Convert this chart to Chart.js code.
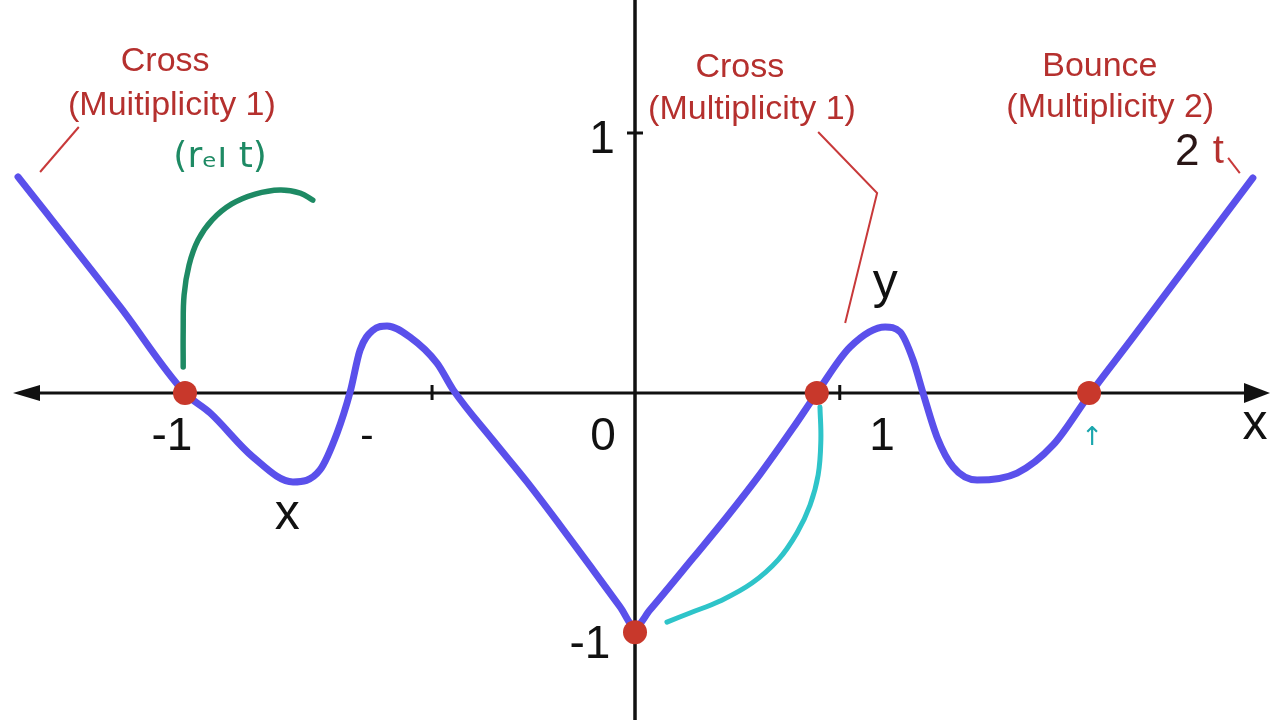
<!DOCTYPE html>
<html>
<head>
<meta charset="utf-8">
<script src="https://cdn.jsdelivr.net/npm/chart.js@4.4.1/dist/chart.umd.min.js"></script>
<style>
  html, body { margin: 0; padding: 0; background: #ffffff; }
  #wrap { width: 1280px; height: 720px; }
</style>
</head>
<body>
<div id="wrap"><canvas id="c" width="1280" height="720"></canvas></div>
<script>
// ---- data (in axis units) ----
const curveX = [-1.371,-1.144,-1.000,-0.944,-0.849,-0.760,-0.700,-0.662,-0.633,-0.611,-0.582,-0.551,-0.500,-0.440,-0.404,-0.316,-0.240,-0.167,-0.093,-0.033,0.000,0.033,0.129,0.204,0.278,0.351,0.404,0.478,0.556,0.589,0.618,0.640,0.671,0.707,0.760,0.849,0.929,1.009,1.107,1.249,1.373];
const curveY = [0.831,0.331,0.000,-0.077,-0.246,-0.342,-0.296,-0.154,0.004,0.165,0.242,0.258,0.215,0.115,0.012,-0.181,-0.342,-0.508,-0.681,-0.823,-0.900,-0.835,-0.635,-0.477,-0.312,-0.135,0.000,0.177,0.254,0.235,0.127,0.000,-0.169,-0.285,-0.335,-0.308,-0.200,-0.008,0.215,0.542,0.827];

const rootX = [-1.0, 0.404, 1.009, 0.0];
const rootY = [0.0, 0.0, 0.0, -0.92];

const greenX = [-1.004,-1.004,-1.002,-0.991,-0.971,-0.940,-0.896,-0.844,-0.789,-0.744,-0.716];
const greenY = [0.100,0.242,0.377,0.492,0.588,0.665,0.727,0.765,0.781,0.769,0.742];

const cyanX = [0.411,0.413,0.407,0.389,0.360,0.318,0.260,0.189,0.122,0.071];
const cyanY = [-0.054,-0.181,-0.315,-0.431,-0.538,-0.642,-0.731,-0.800,-0.846,-0.881];

const leaderLeftX = [-1.236,-1.322];
const leaderLeftY = [1.023,0.850];
const leaderMidX = [0.407,0.538,0.467];
const leaderMidY = [1.004,0.769,0.269];
const leaderRightX = [1.318,1.344];
const leaderRightY = [0.904,0.846];

const xTickValues = [-0.451, 0.455];
const yTickValues = [1.0];

const textItems = [
  {t:"Cross", x:-1.044, y:1.273, kind:"note"},
  {t:"(Muitiplicity 1)", x:-1.029, y:1.104, kind:"note"},
  {t:"(rₑı t)", x:-0.922, y:0.905, kind:"green"},
  {t:"Cross", x:0.233, y:1.250, kind:"note"},
  {t:"(Multiplicity 1)", x:0.260, y:1.088, kind:"note"},
  {t:"Bounce", x:1.033, y:1.254, kind:"note"},
  {t:"(Multiplicity 2)", x:1.056, y:1.096, kind:"note"},
  {t:"2", x:1.227, y:0.923, kind:"dark"},
  {t:"t", x:1.296, y:0.927, kind:"redbig"},
  {t:"y", x:0.556, y:0.420, kind:"var"},
  {t:"x", x:-0.773, y:-0.470, kind:"var"},
  {t:"x", x:1.378, y:-0.125, kind:"var"},
  {t:"-1", x:-1.029, y:-0.169, kind:"num"},
  {t:"0", x:-0.071, y:-0.169, kind:"num"},
  {t:"1", x:0.549, y:-0.169, kind:"num"},
  {t:"-", x:-0.596, y:-0.169, kind:"dash"},
  {t:"1", x:-0.073, y:0.973, kind:"num"},
  {t:"-1", x:-0.100, y:-0.969, kind:"num"},
  {t:"↑", x:1.016, y:-0.175, kind:"cyan"}
];

const zip = (xs, ys) => xs.map((v, i) => ({x: v, y: ys[i]}));

const styles = {
  note:  {font:"34px 'Liberation Sans', Arial, sans-serif", color:"#b5302e"},
  green: {font:"36px 'DejaVu Sans', 'Liberation Sans', sans-serif", color:"#1e8a64"},
  dark:  {font:"44px 'Liberation Sans', Arial, sans-serif", color:"#2a1616"},
  redbig:{font:"40px 'Liberation Sans', Arial, sans-serif", color:"#b5302e"},
  var:   {font:"50px 'Liberation Sans', Arial, sans-serif", color:"#111111"},
  num:   {font:"46px 'Liberation Sans', Arial, sans-serif", color:"#111111"},
  dash:  {font:"40px 'Liberation Sans', Arial, sans-serif", color:"#111111"},
  cyan:  {font:"26px 'DejaVu Sans', sans-serif", color:"#1aa6ad"}
};

const axesPlugin = {
  id: 'axesPlugin',
  beforeDatasetsDraw(chart) {
    const {ctx, scales:{x, y}} = chart;
    const x0 = x.getPixelForValue(0), y0 = y.getPixelForValue(0);
    const left = x.getPixelForValue(x.min) + 13, right = x.getPixelForValue(x.max) - 10;
    ctx.save();
    ctx.strokeStyle = '#111'; ctx.fillStyle = '#111';
    ctx.lineWidth = 3;
    ctx.beginPath(); ctx.moveTo(left + 20, y0); ctx.lineTo(right - 20, y0); ctx.stroke();
    ctx.lineWidth = 3.5;
    ctx.beginPath(); ctx.moveTo(x0, y.getPixelForValue(y.max)); ctx.lineTo(x0, y.getPixelForValue(y.min)); ctx.stroke();
    // arrows
    ctx.beginPath(); ctx.moveTo(right, y0); ctx.lineTo(right - 26, y0 - 10); ctx.lineTo(right - 26, y0 + 10); ctx.closePath(); ctx.fill();
    ctx.beginPath(); ctx.moveTo(left, y0); ctx.lineTo(left + 27, y0 - 8); ctx.lineTo(left + 27, y0 + 8); ctx.closePath(); ctx.fill();
    // ticks
    ctx.lineWidth = 3;
    xTickValues.forEach(v => { const p = x.getPixelForValue(v); ctx.beginPath(); ctx.moveTo(p, y0 - 8); ctx.lineTo(p, y0 + 7); ctx.stroke(); });
    yTickValues.forEach(v => { const p = y.getPixelForValue(v); ctx.beginPath(); ctx.moveTo(x0 - 8, p); ctx.lineTo(x0 + 8, p); ctx.stroke(); });
    ctx.restore();
  },
  afterDatasetsDraw(chart) {
    const {ctx, scales:{x, y}} = chart;
    ctx.save();
    ctx.textAlign = 'center'; ctx.textBaseline = 'middle';
    textItems.forEach(it => {
      const s = styles[it.kind];
      ctx.font = s.font; ctx.fillStyle = s.color;
      ctx.fillText(it.t, x.getPixelForValue(it.x), y.getPixelForValue(it.y));
    });
    ctx.restore();
  }
};

const bg = { id:'bg', beforeDraw(chart){ const c = chart.ctx; c.save(); c.fillStyle='#fff'; c.fillRect(0,0,chart.width,chart.height); c.restore(); } };

const thin = (xs, ys, order) => ({
  data: zip(xs, ys), showLine: true, borderColor: '#c8393a', borderWidth: 2,
  pointRadius: 0, tension: 0, order
});

new Chart(document.getElementById('c'), {
  type: 'scatter',
  data: {
    datasets: [
      { data: zip(rootX, rootY), pointRadius: 12, pointBackgroundColor: '#c8382b', pointBorderColor: '#c8382b', pointBorderWidth: 0, showLine: false, order: 0 },
      { data: zip(curveX, curveY), showLine: true, borderColor: '#5a50eb', borderWidth: 7, pointRadius: 0, cubicInterpolationMode: 'monotone', borderCapStyle: 'round', borderJoinStyle: 'round', order: 1 },
      { data: zip(greenX, greenY), showLine: true, borderColor: '#1e8a64', borderWidth: 5.5, pointRadius: 0, tension: 0.4, borderCapStyle: 'round', order: 2 },
      { data: zip(cyanX, cyanY), showLine: true, borderColor: '#2ec4c9', borderWidth: 5, pointRadius: 0, tension: 0.4, borderCapStyle: 'round', order: 3 },
      thin(leaderLeftX, leaderLeftY, 4),
      thin(leaderMidX, leaderMidY, 5),
      thin(leaderRightX, leaderRightY, 6)
    ]
  },
  options: {
    responsive: false,
    animation: false,
    layout: { padding: 0, autoPadding: false },
    plugins: { legend: { display: false }, tooltip: { enabled: false } },
    scales: {
      x: { type: 'linear', min: -1.4111, max: 1.4333, display: false },
      y: { type: 'linear', min: -1.2577, max: 1.5115, display: false }
    }
  },
  plugins: [bg, axesPlugin]
});
</script>
</body>
</html>
